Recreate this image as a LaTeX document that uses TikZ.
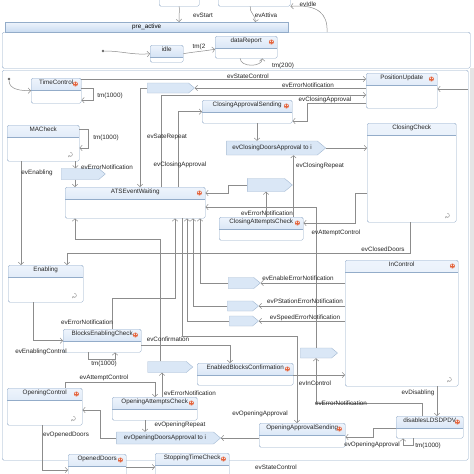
\documentclass[tikz,border=0pt]{standalone}
\usepackage{fontspec}
\setsansfont{Liberation Sans}
\usetikzlibrary{arrows.meta,shapes.symbols}
\definecolor{sline}{HTML}{93ACC9}
\definecolor{htop}{HTML}{EEF4FC}
\definecolor{hbot}{HTML}{C9DBF1}
\definecolor{sigfill}{HTML}{DAE7F6}
\definecolor{sigline}{HTML}{A3B9D3}
\definecolor{tline}{HTML}{8C8C8C}
\definecolor{iconc}{HTML}{E2643E}

\begin{document}
\begin{tikzpicture}[x=1pt,y=-1pt,font=\sffamily\fontsize{6.3}{7}\selectfont]

\tikzset{
  st/.style n args={3}{draw=sline, rounded corners=1.5pt, fill=white,
    anchor=north west, inner sep=0pt, minimum width=#1, minimum height=#2,
    path picture={
      \shade[sharp corners, top color=htop, bottom color=hbot]
        (path picture bounding box.north west) rectangle
        ([yshift=-12pt]path picture bounding box.north east);
      \draw[sline, sharp corners]
        ([yshift=-12pt]path picture bounding box.north west) --
        ([yshift=-12pt]path picture bounding box.north east);},
    label={[stname]north:#3}},
  stname/.style={anchor=north, inner sep=2pt, text=black!85},
  box/.style 2 args={draw=sline, rounded corners=1.5pt, fill=white,
    anchor=north west, inner sep=0pt, minimum width=#1, minimum height=#2},
  bar/.style={draw=sline, anchor=north west, inner sep=0pt,
    minimum width=283pt, minimum height=10pt, top color=htop, bottom color=hbot},
  sig/.style 2 args={signal, signal to=east, signal pointer angle=80,
    draw=sigline, fill=sigfill, inner sep=1pt, text=black!85,
    minimum width=#1, minimum height=#2},
  dot/.style={circle, fill=black!60, inner sep=0pt, minimum size=2.6pt},
  tr/.style={draw=tline, line width=0.5pt, -{Straight Barb[length=2.5pt,width=5.5pt]}},
  lab/.style={inner sep=0.5pt, text=black!85},
  icon/.style={draw=iconc, fill=iconc!20, line width=0.5pt}
}

\useasboundingbox (0,0) rectangle (474,474);
\fill[white] (0,0) rectangle (474,474);
\fill[black!10] (470,68) rectangle (474,474);

\node[box={40pt}{16pt}] (ba) at (159,-10) {};
\node[box={72pt}{16pt}] (bb) at (218,-10) {};
\node[box={468pt}{36pt}] (preb) at (2,32) {};
\node[bar] (pre) at (5,22) {pre\_active};
\node[box={466pt}{390pt}] (actv) at (2,70) {};

\node[st={33pt}{17pt}{idle}] (idle) at (150,45) {};
\node[st={62pt}{22pt}{dataReport}] (dr) at (215,36) {};
\node[st={50pt}{25pt}{TimeControl}] (tc) at (31,78) {};
\node[st={71pt}{35pt}{PositionUpdate}] (pu) at (366,73) {};
\node[st={72pt}{36pt}{MACheck}] (mac) at (7,125) {};
\node[st={90pt}{23pt}{ClosingApprovalSending}] (cas) at (202,100) {};
\node[st={89pt}{99pt}{ClosingCheck}] (cc) at (367,123) {};
\node[st={140pt}{31pt}{ATSEventWaiting}] (ats) at (65,187) {};
\node[st={84pt}{23pt}{ClosingAttemptsCheck}] (cac) at (219,217) {};
\node[st={75pt}{37pt}{Enabling}] (en) at (8,265) {};
\node[st={113pt}{126pt}{InControl}] (ic) at (345,260) {};
\node[st={78pt}{23pt}{BlocksEnablingCheck}] (bec) at (63,329) {};
\node[st={96pt}{22pt}{EnabledBlocksConfirmation}] (ebc) at (197,363) {};
\node[st={75pt}{37pt}{OpeningControl}] (oc) at (7,388) {};
\node[st={85pt}{23pt}{OpeningAttemptsCheck}] (oac) at (112,397) {};
\node[st={86pt}{24pt}{OpeningApprovalSending}] (oas) at (259,423) {};
\node[st={67pt}{22pt}{disablesLDSDPDV}] (dis) at (396,416) {};
\node[st={58pt}{30pt}{OpenedDoors}] (od) at (68,454) {};
\node[st={74pt}{30pt}{StoppingTimeCheck}] (stc) at (155,453) {};

\node[sig={47pt}{10pt}] (p1) at (168,88) {};
\node[sig={99pt}{14pt}] (p2) at (272,148) {evClosingDoorsApproval to i};
\node[sig={45pt}{13pt}] (p3) at (266,185) {};
\node[sig={44pt}{11pt}] (p5) at (80,174) {};
\node[sig={32pt}{11pt}] (p7) at (241,283) {};
\node[sig={31pt}{10pt}] (p8) at (240,306) {};
\node[sig={29pt}{10pt}] (p9) at (241,321) {};
\node[sig={37pt}{10pt}] (p4) at (316,353) {};
\node[sig={45pt}{11pt}] (p6) at (167,367) {};
\node[sig={104pt}{12pt}] (p10) at (165,438) {evOpeningDoorsApproval to i};

\foreach \s in {dr,tc,pu,cas,ats,cac,ic,bec,ebc,oc,oac,oas,dis,od,stc} {
  \draw[icon] ([xshift=-6pt,yshift=-6pt]\s.north east) circle (2.2pt);
  \draw[iconc, line width=0.4pt]
    ([xshift=-8pt,yshift=-6pt]\s.north east) -- ([xshift=-4pt,yshift=-6pt]\s.north east)
    ([xshift=-6pt,yshift=-4pt]\s.north east) -- ([xshift=-6pt,yshift=-8pt]\s.north east);
}
\foreach \s in {mac,en,cc,ic,oc}
  \draw[tline, line width=0.4pt, -{Straight Barb[length=1pt,width=2.2pt]}]
    ([xshift=-9pt,yshift=9pt]\s.south east) arc[start angle=90, end angle=-150, radius=2pt];

\node[dot] (i1) at (103,51) {};
\node[dot] (i2) at (9,79) {};
\coordinate (ei) at (327,32);
\coordinate (er) at (468,89);

\draw[tr] (ba.south) to[out=-85,in=95] (ba.south |- pre.north);
\draw[tr] ([xshift=-4pt]bb.south) to[out=-100,in=80] ([xshift=1pt]bb.south |- pre.north);
\draw[tr] (ei) .. controls (328,14) and (318,4) .. (bb.south east);
\draw[tr] (i1) to[out=0,in=185] (idle.west);
\draw[tr] (idle.east) to[out=10,in=190] ([yshift=-2pt]dr.west);
\draw[tr] ([xshift=-6pt]dr.south) .. controls +(0,9) and +(0,9) .. ([xshift=16pt]dr.south);

\draw[tr] (i2) to[out=-90,in=180] (tc.west);
\draw[tr] ([yshift=2.5pt]tc.east) -- ++(12,0) -- ++(0,12) -- ([yshift=-9.5pt]tc.east);
\draw[tr] ([yshift=-1pt]tc.north east) -- ([yshift=-1pt]tc.north east -| pu.west);
\draw[tr] (pu.west |- p1.east) -- (p1.east);
\draw[tr] (p1.west) -| ([xshift=75pt]ats.north west);
\draw[tr] ([xshift=96pt]ats.north west) |- ([yshift=-22pt]pu.north west);
\draw[tr] ([xshift=113pt]ats.north west) |- (cas.west);
\draw[tr] ([yshift=-30pt]pu.north west) -- ++(-59,0) |- ([yshift=-21pt]cas.north east);
\draw[tr] ([xshift=55pt]cas.south west) -- ([xshift=55pt]cas.south west |- p2.north);
\draw[tr] (p2.east) -- (p2.east -| cc.west);
\draw[tr] ([xshift=-10pt]cac.north east) -- ([xshift=-10pt]cac.north east |- p2.south);
\draw[tr] (cac.north -| p3.south) -- (p3.south);
\draw[tr] (p3.west) -- ++(-19,0) |- ([yshift=-6pt]ats.north east);
\draw[tr] ([yshift=-70pt]cc.north west) -- ++(-12,0) |- ([yshift=-6pt]cac.north east);
\draw[tr] ([xshift=43pt]cc.south west) -- ++(0,31) -| ([xshift=59pt]en.north west);
\draw[tr] (er) -- (er -| pu.east);

\draw[tr] ([xshift=14pt]mac.south west) -- ([xshift=14pt]mac.south west |- en.north);
\draw[tr] ([yshift=-4pt]mac.north east) -- ++(9,0) -- ++(0,19) -- ([yshift=-23pt]mac.north east);
\draw[tr] ([xshift=-4pt]mac.south east) -- ([xshift=-4pt]mac.south east |- p5.north);
\draw[tr] ([xshift=10pt]ats.north west |- p5.south) -- ([xshift=10pt]ats.north west);

\draw[tr] ([xshift=25pt]en.south west) |- (bec.west);
\draw[tr] ([xshift=25pt]bec.south west) -- ++(0,7) -| ([xshift=52pt]bec.south west);
\draw[tr] ([xshift=49pt]bec.north west) -- ++(0,-31) -| ([xshift=110pt]ats.south west);
\draw[tr] ([yshift=-16pt]bec.north east) -| ([xshift=33pt]ebc.north west);
\draw[tr] ([xshift=117pt]ats.south west) -- ++(0,118) -| ([xshift=38pt]oas.north west);

\draw[tr] (ic.west |- p7.east) -- (p7.east);
\draw[tr] (ic.west |- p8.east) -- (p8.east);
\draw[tr] (ic.west |- p9.east) -- (p9.east);
\draw[tr] (p7.west) -| ([xshift=135pt]ats.south west);
\draw[tr] (p8.west) -| ([xshift=128pt]ats.south west);
\draw[tr] (p9.west) -| ([xshift=122pt]ats.south west);
\draw[tr] ([yshift=-12pt]ebc.north east) -- ([yshift=-12pt]ebc.north east -| ic.west);
\draw[tr] ([xshift=41pt]dis.north west |- ic.south) -- ([xshift=41pt]dis.north west);
\draw[tr] ([xshift=17pt]dis.south west) -- ++(0,7) -| ([xshift=7pt]dis.south west);
\draw[tr] ([yshift=-12pt]dis.north west) -- ++(-23,0) |- ([yshift=-14pt]oas.north east);
\draw[tr] ([xshift=26pt]dis.north west) -- ++(0,-13) -| (p4.south);
\draw[tr] (p4.north) |- ([yshift=-20pt]ats.north east);

\draw[tr] ([xshift=58pt]oc.north west) -- ++(0,-6) -| ([xshift=43pt]oac.north west);
\draw[tr] ([xshift=50pt]oac.north west) -- ([xshift=50pt]oac.north west |- p6.south);
\draw[tr] ([xshift=-7pt]p6.north) -- ++(0,-122) -| ([xshift=10pt]ats.south west);
\draw[tr] ([xshift=33pt]oac.south west) -- ([xshift=33pt]oac.south west |- p10.north);
\draw[tr] (oas.west |- p10.east) -- (p10.east);
\draw[tr] (p10.west) -- ++(-16,0) |- ([yshift=-22pt]oc.north east);
\draw[tr] ([xshift=35pt]oc.south west) |- ([yshift=-16pt]od.north west);
\draw[tr] ([yshift=-13pt]od.north east) -- ([yshift=-13pt]od.north east -| stc.west);

\node[lab] (l1) at (203,15) {evStart};
\node[lab] (l2) at (266,15) {evAttiva};
\node[lab] (l3) at (308,4) {evIdle};
\node[lab] (l4) at (199,47) {tm(2};
\node[lab] (l5) at (283,66) {tm(200)};
\node[lab] (l6) at (110,96) {tm(1000)};
\node[lab] (l7) at (248,76) {evStateControl};
\node[lab] (l8) at (308,85) {evErrorNotification};
\node[lab] (l9) at (325,100) {evClosingApproval};
\node[lab] (l10) at (167,137) {evSateRepeat};
\node[lab] (l11) at (180,165) {evClosingApproval};
\node[lab] (l12) at (106,138) {tm(1000)};
\node[lab] (l13) at (107,167) {evErrorNotification};
\node[lab] (l14) at (37,173) {evEnabling};
\node[lab] (l15) at (320,166) {evClosingRepeat};
\node[lab] (l16) at (267,213) {evErrorNotification};
\node[lab] (l17) at (336,233) {evAttemptControl};
\node[lab] (l18) at (383,249) {evClosedDoors};
\node[lab] (l19) at (298,278) {evEnableErrorNotification};
\node[lab] (l20) at (305,301) {evPStationErrorNotification};
\node[lab] (l21) at (305,318) {evSpeedErrorNotification};
\node[lab] (l22) at (87,322) {evErrorNotification};
\node[lab] (l23) at (168,339) {evConfirmation};
\node[lab] (l24) at (41,352) {evEnablingControl};
\node[lab] (l25) at (104,364) {tm(1000)};
\node[lab] (l26) at (104,378) {evAttemptControl};
\node[lab] (l27) at (315,383) {evInControl};
\node[lab] (l28) at (190,393) {evErrorNotification};
\node[lab] (l29) at (418,393) {evDisabling};
\node[lab] (l30) at (341,403) {evErrorNotification};
\node[lab] (l31) at (260,414) {evOpeningApproval};
\node[lab] (l32) at (180,425) {evOpeningRepeat};
\node[lab] (l33) at (66,435) {evOpenedDoors};
\node[lab] (l34) at (372,445) {evOpeningApproval};
\node[lab] (l35) at (428,446) {tm(1000)};
\node[lab] (l36) at (276,467) {evStateControl};

\end{tikzpicture}
\end{document}
